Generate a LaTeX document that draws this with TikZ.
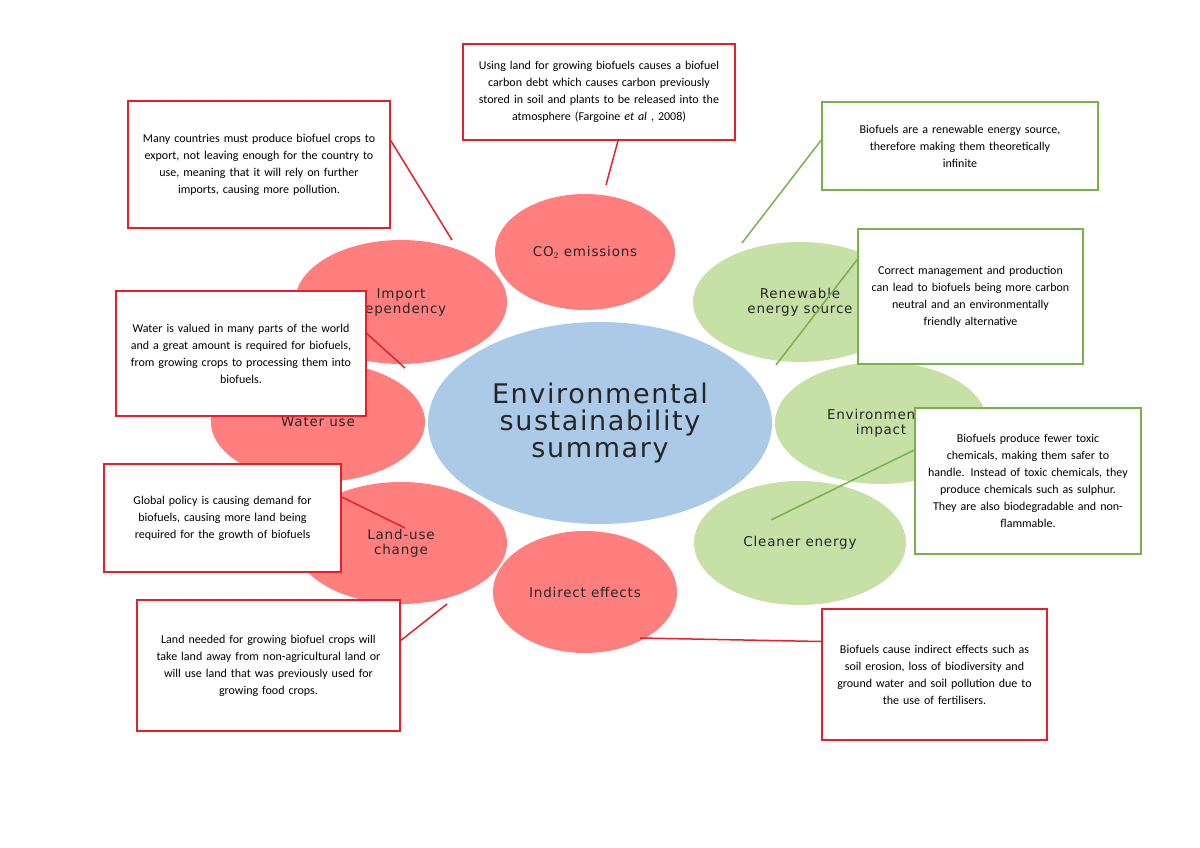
\documentclass[tikz,border=0pt]{standalone}
\usepackage{fontspec}
\setmainfont{Carlito}
\newfontfamily\elfont[LetterSpace=6]{DejaVu Sans}
\usetikzlibrary{shapes.geometric}
\definecolor{redfill}{HTML}{FF7F7F}
\definecolor{greenfill}{HTML}{C6E0A6}
\definecolor{bluefill}{HTML}{ABCAE8}
\definecolor{redline}{HTML}{E3202B}
\definecolor{greenline}{HTML}{77B24B}
\definecolor{eltext}{HTML}{262626}
\tikzset{
 redel/.style={ellipse,fill=redfill,inner sep=0,align=center,text=eltext,font=\elfont\fontsize{13.5}{15}\selectfont},
 greenel/.style={ellipse,fill=greenfill,inner sep=0,align=center,text=eltext,font=\elfont\fontsize{13.5}{15}\selectfont},
 rbox/.style={draw=redline,line width=1.5pt,fill=white,align=center,font=\fontsize{12}{17}\selectfont,inner sep=4pt},
 gbox/.style={draw=greenline,line width=1.5pt,fill=white,align=center,font=\fontsize{12}{17}\selectfont,inner sep=4pt},
 rl/.style={draw=redline,line width=1.5pt},
 gl/.style={draw=greenline,line width=1.5pt}
}
\begin{document}
\begin{tikzpicture}[x=1pt,y=-1pt]
\useasboundingbox (0,0) rectangle (1200,848);
% ellipses
\node[redel,minimum width=180,minimum height=116] (co2) at (585,252) {CO$_2$ emissions};
\node[redel,minimum width=212,minimum height=124] (imp) at (401,302) {Import\\dependency};
\node[redel,minimum width=214,minimum height=120] (wat) at (318,422) {Water use};
\node[redel,minimum width=212,minimum height=122] (land) at (401,543) {Land-use\\change};
\node[redel,minimum width=184,minimum height=122] (ind) at (585,592) {Indirect effects};
\node[greenel,minimum width=214,minimum height=120] (ren) at (800,302) {Renewable\\energy source};
\node[greenel,minimum width=212,minimum height=122] (env) at (881,423) {Environmental\\impact};
\node[greenel,minimum width=212,minimum height=124] (cle) at (800,543) {Cleaner energy};
\node[ellipse,fill=bluefill,minimum width=344,minimum height=202,align=center,text=eltext,font=\elfont\fontsize{27}{27}\selectfont] (main) at (600,423) {Environmental\\sustainability\\summary};
% boxes
\node[rbox,minimum width=272,minimum height=96,text width=262] (bco2) at (599,92) {Using land for growing biofuels causes a biofuel\\carbon debt which causes carbon previously\\stored in soil and plants to be released into the\\atmosphere (Fargoine \textit{et al} , 2008)};
\node[rbox,minimum width=262,minimum height=127,text width=252] (bimp) at (259,164.5) {Many countries must produce biofuel crops to\\export, not leaving enough for the country to\\use, meaning that it will rely on further\\imports, causing more pollution.};
\node[rbox,minimum width=250,minimum height=125,text width=240] (bwat) at (241,353.5) {Water is valued in many parts of the world\\and a great amount is required for biofuels,\\from growing crops to processing them into\\biofuels.};
\node[rbox,minimum width=237,minimum height=108,text width=227] (bglob) at (222.5,518) {Global policy is causing demand for\\biofuels, causing more land being\\required for the growth of biofuels};
\node[rbox,minimum width=263,minimum height=131,text width=253] (bland) at (268.5,665.5) {Land needed for growing biofuel crops will\\take land away from non-agricultural land or\\will use land that was previously used for\\growing food crops.};
\node[gbox,minimum width=276,minimum height=88,text width=266] (bren) at (960,146) {Biofuels are a renewable energy source,\\therefore making them theoretically\\infinite};
\node[gbox,minimum width=225,minimum height=135,text width=215] (bcor) at (970.5,296.5) {Correct management and production\\can lead to biofuels being more carbon\\neutral and an environmentally\\friendly alternative};
\node[gbox,minimum width=226,minimum height=146,text width=216] (bcle) at (1028,481) {Biofuels produce fewer toxic\\chemicals, making them safer to\\handle. Instead of toxic chemicals, they\\produce chemicals such as sulphur.\\They are also biodegradable and non-\\flammable.};
\node[rbox,minimum width=225,minimum height=131,text width=215] (bind) at (934.5,674.5) {Biofuels cause indirect effects such as\\soil erosion, loss of biodiversity and\\ground water and soil pollution due to\\the use of fertilisers.};
% connector ends
\coordinate (e1) at (606,185);
\coordinate (e2) at (452,240);
\coordinate (e3) at (405,368);
\coordinate (e4) at (405,528);
\coordinate (e5) at (447,604);
\coordinate (e6) at (640,638);
\coordinate (e7) at (742,243);
\coordinate (e8) at (776,365);
\coordinate (e9) at (771,520);
\draw[rl] (bco2.south)++(19,0) -- (e1);
\draw[rl] (bimp.east)++(0,-24) -- (e2);
\draw[rl] (bwat.east)++(0,-20) -- (e3);
\draw[rl] (bglob.east)++(0,-21) -- (e4);
\draw[rl] (bland.east)++(0,-25) -- (e5);
\draw[rl] (bind.west)++(0,-33) -- (e6);
\draw[gl] (bren.west)++(0,-6) -- (e7);
\draw[gl] (bcor.west)++(0,-37) -- (e8);
\draw[gl] (bcle.west)++(0,-31) -- (e9);
\end{tikzpicture}
\end{document}
